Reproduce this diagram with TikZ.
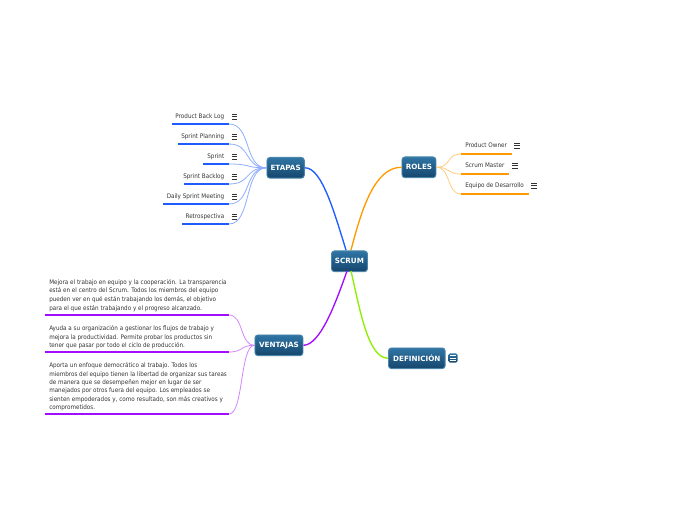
\documentclass[tikz,border=0pt]{standalone}
\usepackage{fontspec}
\setmainfont{DejaVu Sans}
\newfontfamily\leaffont[FakeStretch=0.9]{DejaVu Sans}
\definecolor{bluebr}{HTML}{1F5CFF}
\definecolor{orangebr}{HTML}{FF9A00}
\definecolor{purplebr}{HTML}{A30DFF}
\definecolor{greenbr}{HTML}{8CF000}
\definecolor{boxedge}{HTML}{4C86AB}
\definecolor{boxtop}{HTML}{2F75A5}
\definecolor{boxbot}{HTML}{16466C}
\definecolor{leafink}{HTML}{333333}
\tikzset{
	topic/.style={rounded corners=2.2pt,draw=boxedge,line width=0.7pt,top color=boxtop,bottom color=boxbot,text=white,font=\bfseries\fontsize{5.4}{6}\selectfont,inner sep=0pt,anchor=north west},
	leaf/.style={text=leafink,font=\leaffont\fontsize{4.7}{6}\selectfont,inner sep=0pt,anchor=east},
	note/.style={text=leafink,font=\leaffont\fontsize{4.7}{6.3}\selectfont,inner sep=0pt,anchor=north west,align=left},
	menu/.style={line width=0.45pt,leafink},
	main/.style={line width=1pt},
	sub/.style={line width=0.6pt},
	under/.style={line width=0.9pt},
	bow/.style={out=0,in=180,distance=11pt},
	widebow/.style={out=0,in=180,distance=17pt},
}
\newcommand{\menuicon}[3]{\draw[#3] (#1-2.6,#2-2.4) -- (#1+2.6,#2-2.4) (#1-2.6,#2) -- (#1+2.6,#2) (#1-2.6,#2+2.4) -- (#1+2.6,#2+2.4);}
\begin{document}
\begin{tikzpicture}[x=0.75pt,y=-0.75pt]
		\useasboundingbox (0,0) rectangle (696,520);
		% main topics
		\node[topic,minimum width=27pt,minimum height=15.5pt] (scrum) at (331,250.5) {SCRUM};
		\node[topic,minimum width=28pt,minimum height=15.5pt] (etapas) at (266.5,157) {ETAPAS};
		\node[topic,minimum width=25.5pt,minimum height=15.5pt] (roles) at (401.5,156.5) {ROLES};
		\node[topic,minimum width=36pt,minimum height=15.5pt] (ventajas) at (254.5,334.5) {VENTAJAS};
		\node[topic,minimum width=42.5pt,minimum height=15.5pt] (definicion) at (388,347.5) {DEFINICIÓN};
		\node[rounded corners=1pt,bottom color=boxbot,top color=boxtop,minimum size=6.8pt,inner sep=0pt] (defmenu) at (453,358) {};
		\menuicon{453}{358}{white,line width=0.5pt}
		% branches
		\draw[main,bluebr] (etapas.east) .. controls (322,167) and (335,215) .. (346,250);
		\draw[main,orangebr] (roles.west) .. controls (374,167) and (361,212) .. (351,250);
		\draw[main,purplebr] (ventajas.east) .. controls (320,345) and (335,305) .. (347,271);
		\draw[main,greenbr] (definicion.west) .. controls (368,358) and (360,310) .. (351,271);
		% etapas
		\coordinate (e1) at (229,124);
		\coordinate (e2) at (229,144);
		\coordinate (e3) at (229,164);
		\coordinate (e4) at (229,184);
		\coordinate (e5) at (229,204);
		\coordinate (e6) at (229,224);
		\node[leaf] (backlog) at (224.5,117) {Product Back Log};
		\node[leaf] (planning) at (224.5,137) {Sprint Planning};
		\node[leaf] (sprint) at (224.5,157) {Sprint};
		\node[leaf] (sbacklog) at (224.5,177) {Sprint Backlog};
		\node[leaf] (meeting) at (224.5,197) {Daily Sprint Meeting};
		\node[leaf] (retro) at (224.5,217) {Retrospectiva};
		\draw[under,bluebr] (172,124) -- (e1);
		\draw[under,bluebr] (178,144) -- (e2);
		\draw[under,bluebr] (203,164) -- (e3);
		\draw[under,bluebr] (184,184) -- (e4);
		\draw[under,bluebr] (163,204) -- (e5);
		\draw[under,bluebr] (182,224) -- (e6);
		\draw[sub,bluebr!50] (e1) to[widebow] (etapas.west);
		\draw[sub,bluebr!50] (e2) to[widebow] (etapas.west);
		\draw[sub,bluebr!50] (e3) to[widebow] (etapas.west);
		\draw[sub,bluebr!50] (e4) to[widebow] (etapas.west);
		\draw[sub,bluebr!50] (e5) to[widebow] (etapas.west);
		\draw[sub,bluebr!50] (e6) to[widebow] (etapas.west);
		\menuicon{234.5}{116.5}{menu}
		\menuicon{234.5}{136.5}{menu}
		\menuicon{234.5}{156.5}{menu}
		\menuicon{234.5}{176.5}{menu}
		\menuicon{234.5}{196.5}{menu}
		\menuicon{234.5}{216.5}{menu}
		% roles
		\coordinate (r1) at (461,154);
		\coordinate (r2) at (461,174);
		\coordinate (r3) at (461,194);
		\node[leaf,anchor=west] (owner) at (465,145.5) {Product Owner};
		\node[leaf,anchor=west] (master) at (465,165.5) {Scrum Master};
		\node[leaf,anchor=west] (equipo) at (465,185.5) {Equipo de Desarrollo};
		\draw[under,orangebr] (r1) -- (512,154);
		\draw[under,orangebr] (r2) -- (509,174);
		\draw[under,orangebr] (r3) -- (529,194);
		\draw[sub,orangebr!50] (roles.east) to[bow] (r1);
		\draw[sub,orangebr!50] (roles.east) to[bow] (r2);
		\draw[sub,orangebr!50] (roles.east) to[bow] (r3);
		\menuicon{517}{145.5}{menu}
		\menuicon{515}{165.5}{menu}
		\menuicon{534}{185.5}{menu}
		% ventajas
		\coordinate (v1) at (229,315);
		\coordinate (v2) at (229,352);
		\coordinate (v3) at (229,414);
		\node[note,font=\leaffont\fontsize{4.7}{6.65}\selectfont] (mejora) at (49,278.8) {Mejora el trabajo en equipo y la cooperación. La transparencia\\está en el centro del Scrum. Todos los miembros del equipo\\pueden ver en qué están trabajando los demás, el objetivo\\para el que están trabajando y el progreso alcanzado.};
		\node[note] (ayuda) at (49,325.5) {Ayuda a su organización a gestionar los flujos de trabajo y\\mejora la productividad. Permite probar los productos sin\\tener que pasar por todo el ciclo de producción.};
		\node[note] (aporta) at (49,362.5) {Aporta un enfoque democrático al trabajo. Todos los\\miembros del equipo tienen la libertad de organizar sus tareas\\de manera que se desempeñen mejor en lugar de ser\\manejados por otros fuera del equipo. Los empleados se\\sienten empoderados y, como resultado, son más creativos y\\comprometidos.};
		\draw[under,purplebr] (45,315) -- (v1);
		\draw[under,purplebr] (45,352) -- (v2);
		\draw[under,purplebr] (45,414) -- (v3);
		\draw[sub,purplebr!50] (v1) to[bow] (ventajas.west);
		\draw[sub,purplebr!50] (v2) to[bow] (ventajas.west);
		\draw[sub,purplebr!50] (v3) to[bow] (ventajas.west);
		\end{tikzpicture}
\end{document}
